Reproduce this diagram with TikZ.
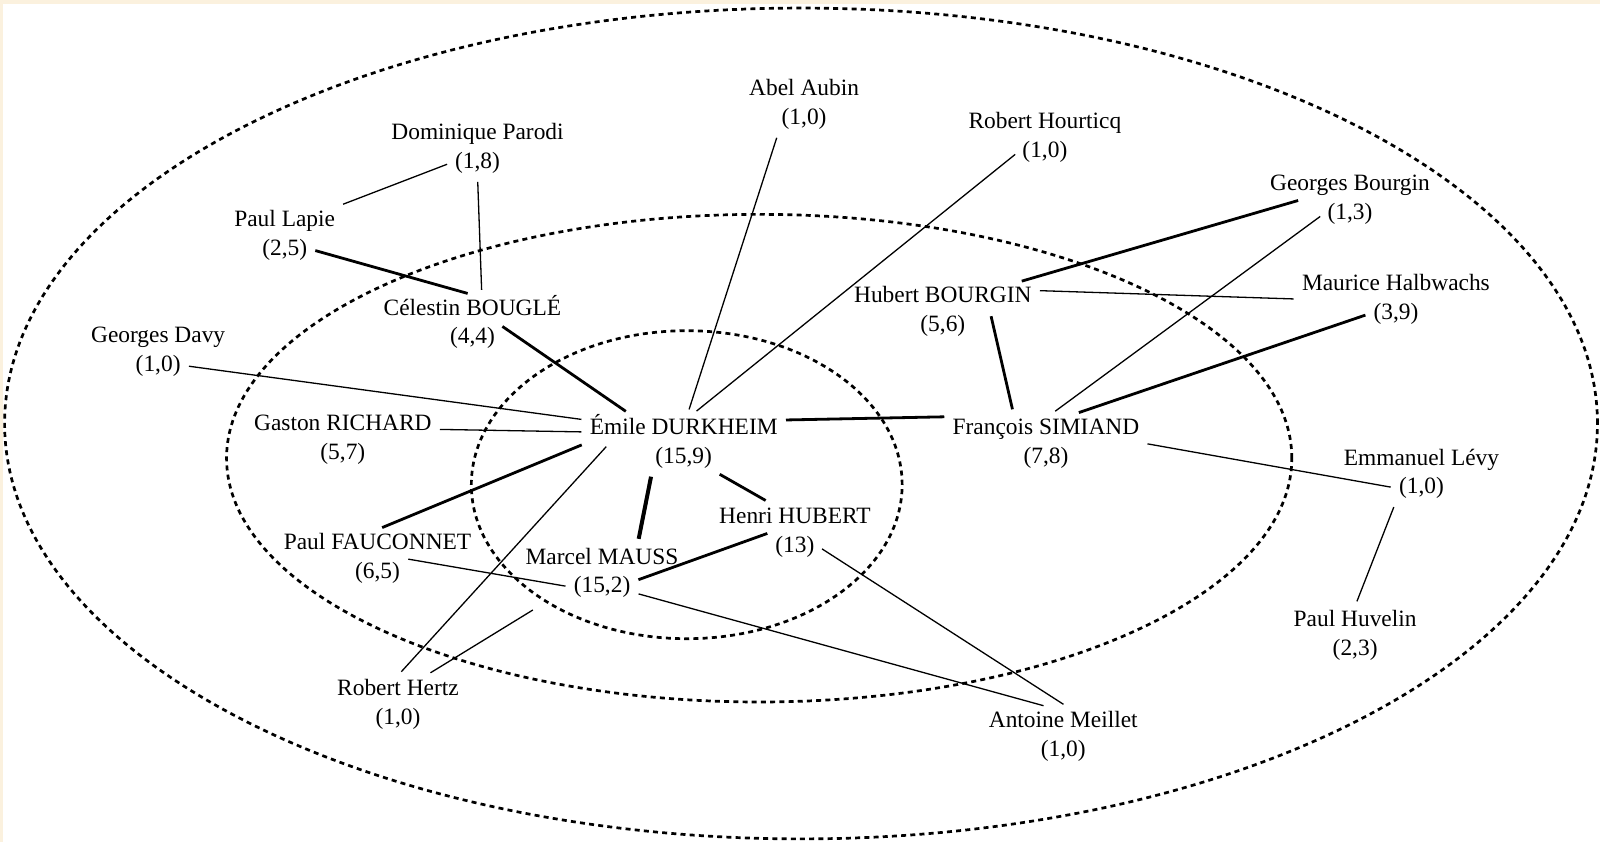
\documentclass[tikz,border=0pt]{standalone}
\usepackage{fontspec}
\setmainfont{Liberation Serif}
\usepackage{tikz}
\usetikzlibrary{positioning}
\definecolor{paper}{RGB}{251,241,222}

\tikzset{
    person/.style={font=\fontsize{11.7}{14}\selectfont, inner sep=1.5pt, text height=8.5pt, text depth=2.5pt},
    ring/.style={line width=1.35pt, dash pattern=on 2.5pt off 2.1pt},
    tie/.style={line width=0.65pt, shorten >=2.5pt, shorten <=2.5pt},
    strongtie/.style={tie, line width=1.4pt}
}

\begin{document}
\begin{tikzpicture}[x=0.5102pt, y=-0.5102pt]
    % paper and frame
    \fill[paper] (0,0) rectangle (1568,825.2);
    \fill[white] (2.9,3.9) rectangle (1568,825.2);
    \useasboundingbox (0,0) rectangle (1568,825.2);

    % the three circles
    \draw[ring] (785,415) ellipse [x radius=398.2pt, y radius=207.7pt];
    \draw[ring] (744,449) ellipse [x radius=266.3pt, y radius=121.9pt];
    \draw[ring] (673,475) ellipse [x radius=107.7pt, y radius=77.0pt];

    % names with their scores below
    \foreach \n/\x/\y/\who/\val in {
        aubin/788/88/Abel Aubin/{(1,0)},
        hourticq/1024/120/Robert Hourticq/{(1,0)},
        parodi/468/131/Dominique Parodi/{(1,8)},
        lapie/279/216/Paul Lapie/{(2,5)},
        gbourgin/1323/181/Georges Bourgin/{(1,3)},
        bougle/463/303/Célestin BOUGLÉ/{(4,4)},
        hbourgin/924/291/Hubert BOURGIN/{(5,6)},
        halbwachs/1368/279/Maurice Halbwachs/{(3,9)},
        davy/155/330/Georges Davy/{(1,0)},
        durkheim/670/420/Émile DURKHEIM/{(15,9)},
        richard/336/416/Gaston RICHARD/{(5,7)},
        simiand/1025/420/François SIMIAND/{(7,8)},
        levy/1393/450/Emmanuel Lévy/{(1,0)},
        hubert/779/507/Henri HUBERT/{(13)},
        fauconnet/370/533/Paul FAUCONNET/{(6,5)},
        mauss/590/547/Marcel MAUSS/{(15,2)},
        huvelin/1328/608/Paul Huvelin/{(2,3)},
        hertz/390/676/Robert Hertz/{(1,0)},
        meillet/1042/707/Antoine Meillet/{(1,0)}}{

        \node[person] (\n) at (\x,\y) {\who};
        \node[person, below=0pt of \n] (\n-v) {\val};
    }

    % strong ties
    \foreach \a/\b in {
        lapie-v.east/bougle.north,
        bougle-v.north east/durkheim.165,
        durkheim.5/simiand.173,
        durkheim.south west/fauconnet.north,
        durkheim-v.south east/hubert.150,
        mauss-v.10/hubert-v.north west,
        hbourgin.-17/simiand.156,
        hbourgin.11/gbourgin.-163,
        simiand.27/halbwachs-v.west}{

        \draw[strongtie] (\a) -- (\b);
    }
    \draw[strongtie, line width=2pt] (durkheim-v.south west) -- (mauss.22);

    % weak ties
    \foreach \a/\b in {
        parodi-v.west/lapie.north east,
        parodi-v.south/bougle.57,
        aubin-v.south west/durkheim.75,
        hourticq-v.west/durkheim.58,
        davy-v.east/durkheim.175,
        richard.-3/durkheim.182,
        durkheim.-169/hertz.north,
        fauconnet-v.north east/mauss-v.west,
        mauss-v.-10/meillet.136,
        hubert-v.east/meillet.73,
        hbourgin.4/halbwachs.south west,
        gbourgin-v.west/simiand.70,
        simiand.south east/levy-v.west,
        levy-v.south west/huvelin.north}{

        \draw[tie] (\a) -- (\b);
    }
    \draw[tie, shorten >=22pt] (hertz.27) -- (mauss-v.west);
\end{tikzpicture}
\end{document}
